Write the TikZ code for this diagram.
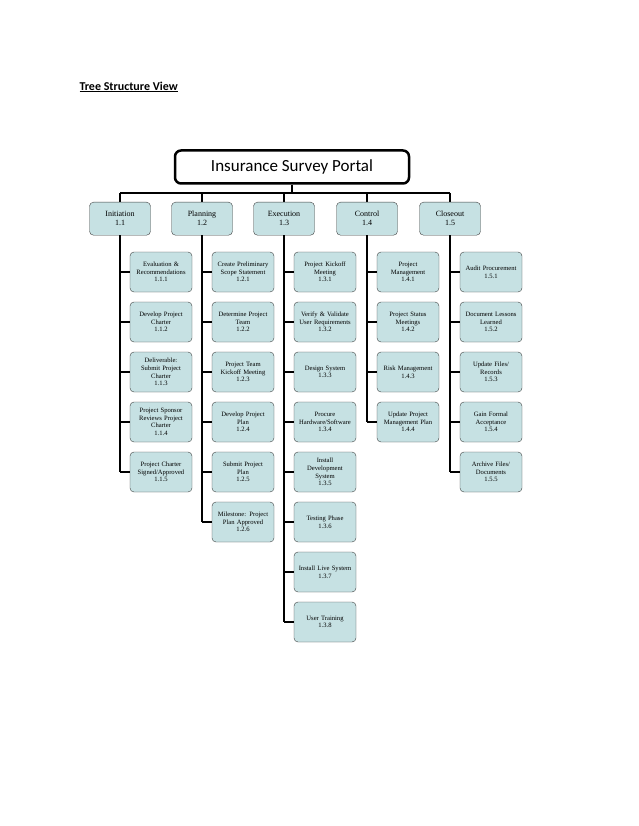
\documentclass[tikz,border=0pt]{standalone}
\usepackage{fontspec}
\setmainfont{Liberation Serif}
\newfontfamily\calfont{Carlito}
\begin{document}
\begin{tikzpicture}[x=1pt,y=-1pt,
  lone/.style={draw=black!75,fill=cyanbox,rounded corners=4pt,minimum width=61pt,minimum height=33pt,align=center,font=\fontsize{8}{9}\selectfont,anchor=north,inner sep=1pt},
  ltwo/.style={draw=black!75,fill=cyanbox,rounded corners=4pt,minimum width=61pt,minimum height=40pt,text width=60pt,align=center,font=\fontsize{6.6}{7.6}\selectfont,inner sep=1pt},
  wire/.style={line width=2pt,black}]
\definecolor{cyanbox}{HTML}{C6E1E3}
\useasboundingbox (0,0) rectangle (638,826);
\node[font=\calfont\bfseries\fontsize{12}{14}\selectfont,anchor=west] (ttl) at (76,87) {\underline{Tree Structure View}};
\node[draw,line width=2.5pt,rounded corners=6pt,minimum width=234pt,minimum height=33pt,font=\calfont\fontsize{17}{19}\selectfont] (root) at (292,167) {\raisebox{-6pt}{Insurance Survey Portal}};
\coordinate (bus) at (292,193);
\draw[wire] (root.south) -- (bus);
\draw[wire] (120,193) -- (450,193);
\foreach \n/\x/\t in {a/120/Initiation\\1.1, b/202/Planning\\1.2, c/284/Execution\\1.3, d/367/Control\\1.4, e/450/Closeout\\1.5}{
  \draw[wire] (\x,193) -- (\x,202);
  \node[lone] (\n) at (\x,202) {\t};
}
\newcommand\mykids[3]{%
  \foreach \t [count=\i] in {#3}{
    \pgfmathsetmacro\yy{222+50*\i}
    \node[ltwo] (#1\i) at (#2+41,\yy) {\t};
    \draw[wire] (#2,\yy) -- (#1\i.west);
    \xdef\lastyy{\yy}
  }
  \draw[wire] (#1.south) -- (#2,\lastyy);
}
\mykids{a}{120}{Evaluation \&\\Recommendations\\1.1.1, Develop Project\\Charter\\1.1.2, Deliverable:\\Submit Project\\Charter\\1.1.3, Project Sponsor\\Reviews Project\\Charter\\1.1.4, Project Charter\\Signed/Approved\\1.1.5}
\mykids{b}{202}{Create Preliminary\\Scope Statement\\1.2.1, Determine Project\\Team\\1.2.2, Project Team\\Kickoff Meeting\\1.2.3, Develop Project\\Plan\\1.2.4, Submit Project\\Plan\\1.2.5, Milestone: Project\\Plan Approved\\1.2.6}
\mykids{c}{284}{Project Kickoff\\Meeting\\1.3.1, Verify \& Validate\\User Requirements\\1.3.2, Design System\\1.3.3\\[8pt], Procure\\Hardware/Software\\1.3.4, Install\\Development\\System\\1.3.5, Testing Phase\\1.3.6\\[8pt], Install Live System\\1.3.7\\[8pt], User Training\\1.3.8\\[8pt]}
\mykids{d}{367}{Project\\Management\\1.4.1, Project Status\\Meetings\\1.4.2, Risk Management\\1.4.3\\[8pt], Update Project\\Management Plan\\1.4.4}
\mykids{e}{450}{Audit Procurement\\1.5.1\\[8pt], Document Lessons\\Learned\\1.5.2, Update Files/\\Records\\1.5.3, Gain Formal\\Acceptance\\1.5.4, Archive Files/\\Documents\\1.5.5}
\end{tikzpicture}
\end{document}
